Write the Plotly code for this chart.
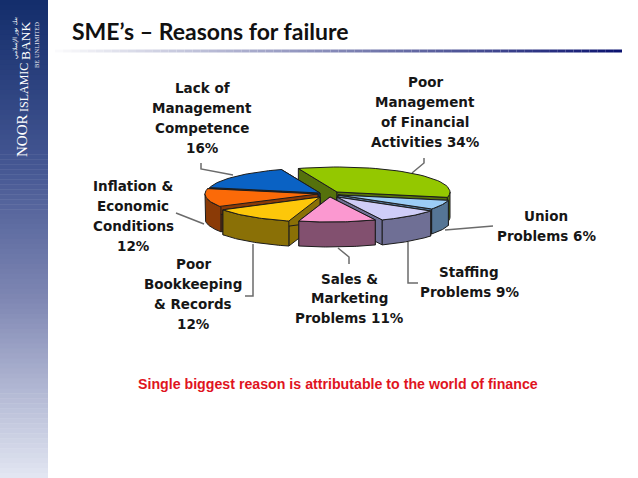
import math
import plotly.graph_objects as go

# ---- data ----
categories = ["Poor Management of Financial Activities", "Union Problems", "Staffing Problems",
              "Sales & Marketing Problems", "Poor Bookkeeping & Records",
              "Inflation & Economic Conditions", "Lack of Management Competence"]
values = [34, 6, 9, 11, 12, 12, 16]
top_colors = ["#94c800", "#9ccdf6", "#cfcdf8", "#fb98d0", "#fdc70a", "#fb6a08", "#0a62c4"]
side_colors = ["#55710c", "#557595", "#6f6f95", "#82506f", "#8a7006", "#8a3a06", "#063a78"]
apex_x = [337, 338, 337, 330, 320, 318, 320]
apex_y = [192, 195, 197, 197, 197, 194, 193]
draw_order = [0, 1, 2, 6, 5, 4, 3]

label_lines = [["Lack of", "Management", "Competence", "16%"],
               ["Poor", "Management", "of Financial", "Activities 34%"],
               ["Union", "Problems 6%"],
               ["Staffing", "Problems 9%"],
               ["Sales &", "Marketing", "Problems 11%"],
               ["Poor", "Bookkeeping", "& Records", "12%"],
               ["Inflation &", "Economic", "Conditions", "12%"]]
label_x = [202, 425, 546, 469, 349, 193, 133]
label_y = [[88, 108, 128, 148], [82, 102, 122, 142], [216, 236], [272, 292],
           [279, 298, 318], [264, 284, 304, 324], [186, 206, 226, 246]]
leader_x = [[201, 201, 233], [424, 424, 412], [493, 445], [408, 408, 418], [349, 349, 338],
            [253, 253, 245], [176, 204]]
leader_y = [[163, 169, 175], [158, 163, 173], [226, 230], [242, 283, 283], [264, 257, 248],
            [244, 296, 296], [213, 224]]

RX, RY, DEPTH, START = 113, 25, 25, 110.0

traces = []


def poly(xs, ys, fill, line="#1c1c1c", width=1):
    traces.append(go.Scatter(x=xs, y=ys, mode="lines", fill="toself", fillcolor=fill,
                             line=dict(color=line, width=width), hoverinfo="skip", showlegend=False))


for lx, ly in zip(leader_x, leader_y):
    traces.append(go.Scatter(x=lx, y=ly, mode="lines", line=dict(color="#6b6b6b", width=1.5),
                             hoverinfo="skip", showlegend=False))

bounds = [START]
for v in values:
    bounds.append(bounds[-1] - v / sum(values) * 360)

for i in draw_order:
    a0, a1 = bounds[i], bounds[i + 1]
    cx, cy = apex_x[i], apex_y[i]
    ts = [a0 + (a1 - a0) * k / 40 for k in range(41)]
    ax = [cx + RX * math.cos(math.radians(t)) for t in ts]
    ay = [cy - RY * math.sin(math.radians(t)) for t in ts]
    poly([cx, ax[0], ax[0], cx, cx], [cy, ay[0], ay[0] + DEPTH, cy + DEPTH, cy], side_colors[i])
    poly([cx, ax[-1], ax[-1], cx, cx], [cy, ay[-1], ay[-1] + DEPTH, cy + DEPTH, cy], side_colors[i])
    front = [(x, y) for x, y, t in zip(ax, ay, ts) if math.sin(math.radians(t)) <= 0.02]
    if front:
        fx = [p[0] for p in front]
        fy = [p[1] for p in front]
        poly(fx + fx[::-1] + fx[:1], fy + [y + DEPTH for y in fy[::-1]] + fy[:1], side_colors[i])
    poly([cx] + ax + [cx], [cy] + ay + [cy], top_colors[i])

fig = go.Figure(traces)

# sidebar gradient stops: (fraction of height, r, g, b)
sidebar_stops = [(0.0, 20, 46, 108), (0.35, 70, 88, 148), (0.63, 128, 136, 180), (1.0, 226, 230, 242)]


def sidebar_colour(f):
    for (f0, r0, g0, b0), (f1, r1, g1, b1) in zip(sidebar_stops, sidebar_stops[1:]):
        if f <= f1:
            u = (f - f0) / (f1 - f0)
            return "rgb(%d,%d,%d)" % (r0 + (r1 - r0) * u, g0 + (g1 - g0) * u, b0 + (b1 - b0) * u)
    return "rgb(226,230,242)"


shapes = []
SIDEBAR_STEPS = 96
for k in range(SIDEBAR_STEPS):
    shapes.append(dict(type="rect", xref="x", yref="y", x0=0, x1=48, y0=478 * k / SIDEBAR_STEPS,
                       y1=478 * (k + 1) / SIDEBAR_STEPS + 0.5, line_width=0,
                       fillcolor=sidebar_colour(k / (SIDEBAR_STEPS - 1)), layer="below"))
RULE_STEPS = 70
for k in range(RULE_STEPS):
    f = k / (RULE_STEPS - 1)
    col = "rgb(%d,%d,%d)" % (250 - 238 * f, 250 - 230 * f, 252 - 140 * f)
    shapes.append(dict(type="line", xref="x", yref="y", x0=55 + (622 - 55) * k / RULE_STEPS,
                       x1=55 + (622 - 55) * (k + 1) / RULE_STEPS, y0=51, y1=51,
                       line=dict(color=col, width=3), layer="below"))

ann = []
for lines, x, ys in zip(label_lines, label_x, label_y):
    for text, y in zip(lines, ys):
        ann.append(dict(x=x, y=y, text="<b>%s</b>" % text, showarrow=False, xref="x", yref="y",
                        font=dict(family="DejaVu Sans", size=13.5, color="#161616")))
ann.append(dict(x=70, y=31, text="<b>SME’s – Reasons for failure</b>", showarrow=False, xanchor="left",
                font=dict(family="Lato", size=23, color="#111111")))
ann.append(dict(x=338, y=384, text="<b>Single biggest reason is attributable to the world of finance</b>",
                showarrow=False, font=dict(family="Liberation Sans", size=14.2, color="#e0141e")))
logo_parts = [("NOOR", 22, 136, 15), ("ISLAMIC", 24, 88, 12), ("BANK", 25, 41, 13.5)]
for text, x, y, size in logo_parts:
    ann.append(dict(x=x, y=y, text=text, textangle=-90, showarrow=False,
                    font=dict(family="Liberation Serif", size=size, color="#ffffff")))
ann.append(dict(x=36, y=45, text="BE UNLIMITED", textangle=-90, showarrow=False,
                font=dict(family="Liberation Serif", size=6.5, color="#e8e8f0")))
ann.append(dict(x=15, y=38, text="بنك نور الإسلامي", textangle=-90, showarrow=False,
                font=dict(family="DejaVu Sans", size=6, color="#ffffff")))

fig.update_layout(width=638, height=478, margin=dict(l=0, r=0, t=0, b=0), showlegend=False,
                  paper_bgcolor="white", plot_bgcolor="white", shapes=shapes, annotations=ann,
                  xaxis=dict(range=[0, 638], visible=False, fixedrange=True),
                  yaxis=dict(range=[478, 0], visible=False, fixedrange=True))
fig.write_html("out.html", config={"displayModeBar": False},
               post_script="document.body.style.margin='0';document.documentElement.style.overflow='hidden';")
